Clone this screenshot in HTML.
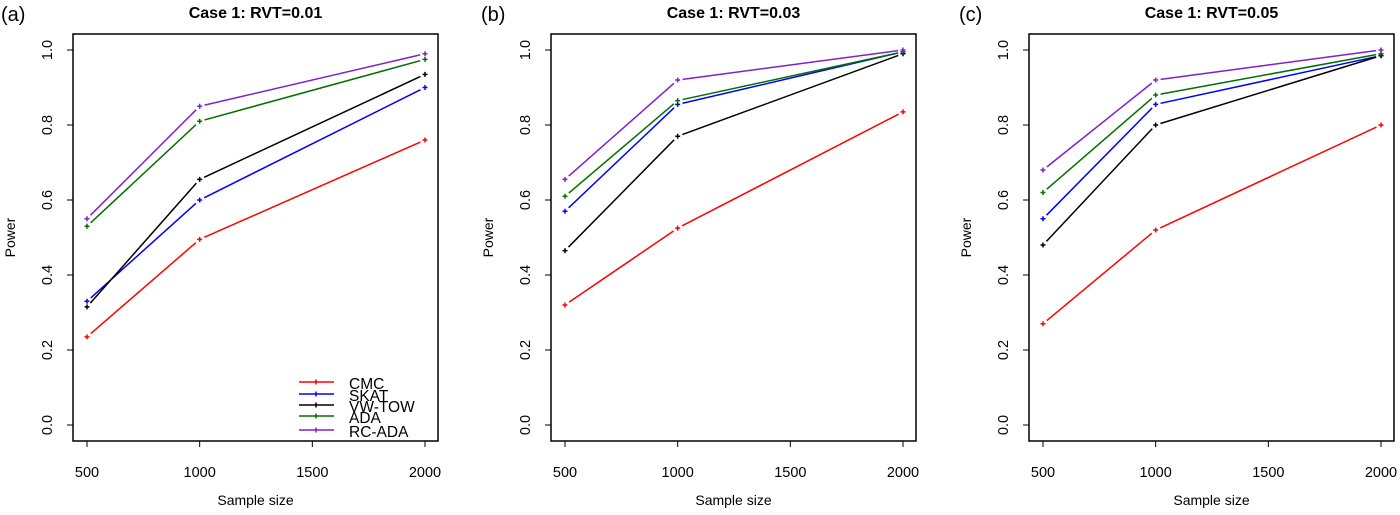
<!DOCTYPE html>
<html><head><meta charset="utf-8"><style>
body{margin:0;background:#fff}
svg text{font-family:"Liberation Sans",Arial,sans-serif}
</style></head><body>
<svg id="chart" width="1400" height="510" viewBox="0 0 1400 510" xmlns="http://www.w3.org/2000/svg"></svg>
<script>
const sampleSizes=[500,1000,2000];
const xTicks=[500,1000,1500,2000];
const yTicks=[0,0.2,0.4,0.6,0.8,1.0];
const methods=["CMC","SKAT","VW-TOW","ADA","RC-ADA"];
const colors=["#ff0000","#0000ff","#000000","#007000","#7f1fcf"];
const titles=["Case 1: RVT=0.01","Case 1: RVT=0.03","Case 1: RVT=0.05"];
const panelLetters=["(a)","(b)","(c)"];
const panelA=[[0.235,0.495,0.76],[0.33,0.60,0.90],[0.315,0.655,0.935],[0.53,0.81,0.975],[0.55,0.85,0.99]];
const panelB=[[0.32,0.525,0.835],[0.57,0.855,0.995],[0.465,0.77,0.99],[0.61,0.865,0.995],[0.655,0.92,1.0]];
const panelC=[[0.27,0.52,0.80],[0.55,0.855,0.985],[0.48,0.80,0.985],[0.62,0.88,0.99],[0.68,0.92,1.0]];
const panelData=[panelA,panelB,panelC];

const NS="http://www.w3.org/2000/svg";
const svg=document.getElementById('chart');
function mk(tag,attrs,parent,txt){const e=document.createElementNS(NS,tag);for(const k in attrs)e.setAttribute(k,attrs[k]);if(txt!==undefined)e.textContent=txt;(parent||svg).appendChild(e);return e;}
const offsets=[0,478,956];
offsets.forEach((off,p)=>{
  const g=mk('g',{});
  
  
  const boxL=73+off,boxR=438+off,boxT=34,boxB=441;
  const xs=v=>87+off+(v-500)/1500*338;
  const ys=v=>425-v*375;
  const lab=mk('text',{x:1+off+(p==0?0:2),y:21,'font-size':20},g,panelLetters[p]);
  
  const t=mk('text',{x:(boxL+boxR)/2,y:18,'font-size':16,'font-weight':'bold','text-anchor':'middle'},g,titles[p]);
  
  const box=mk('rect',{x:boxL,y:boxT,width:boxR-boxL,height:boxB-boxT,fill:'none',stroke:'#000','stroke-width':1.5},g);
  
  xTicks.forEach(v=>{
    mk('line',{x1:xs(v),x2:xs(v),y1:boxB,y2:boxB+6,stroke:'#000'},g);
    const tl=mk('text',{x:xs(v),y:477,'font-size':14.5,'text-anchor':'middle'},g,String(v));
    
  });
  yTicks.forEach(v=>{
    mk('line',{x1:boxL-6,x2:boxL,y1:ys(v),y2:ys(v),stroke:'#000'},g);
    const tl=mk('text',{x:0,y:0,'font-size':14.5,'text-anchor':'middle',transform:`translate(${boxL-21},${ys(v)}) rotate(-90)`},g,v.toFixed(1));
    
  });
  const xt=mk('text',{x:(boxL+boxR)/2,y:505,'font-size':14,'text-anchor':'middle'},g,'Sample size');
  
  const yt=mk('text',{x:0,y:0,'font-size':14,'text-anchor':'middle',transform:`translate(${off+15},${(boxT+boxB)/2}) rotate(-90)`},g,'Power');
  
  panelData[p].forEach((vals,m)=>{
    const sg=mk('g',{stroke:colors[m],'stroke-width':1.5},g);
    
    
    for(let i=0;i<vals.length-1;i++){
      const x1=xs(sampleSizes[i]),y1=ys(vals[i]),x2=xs(sampleSizes[i+1]),y2=ys(vals[i+1]);
      const d=Math.hypot(x2-x1,y2-y1),g2=5/d;
      mk('line',{x1:x1+(x2-x1)*g2,y1:y1+(y2-y1)*g2,x2:x2-(x2-x1)*g2,y2:y2-(y2-y1)*g2},sg);
    }
    vals.forEach((v,i)=>{
      const x=xs(sampleSizes[i]),y=ys(v);
      const pt=mk('path',{d:`M${x-2.5},${y}H${x+2.5}M${x},${y-2.5}V${y+2.5}`},sg);
      
    });
  });
  if(p===0){
    const lg=mk('g',{},g);
    
    const ly=[382,394,405,416,430];
    methods.forEach((n,m)=>{
      const e=mk('g',{},lg);
      
      mk('line',{x1:299,x2:334,y1:ly[m],y2:ly[m],stroke:colors[m],'stroke-width':1.5},e);
      mk('path',{d:`M${316},${ly[m]-2.5}V${ly[m]+2.5}`,stroke:colors[m],'stroke-width':1.5},e);
      mk('text',{x:349,y:ly[m]+7,'font-size':15.5},e,n);
    });
  }
});
</script>
</body></html>
